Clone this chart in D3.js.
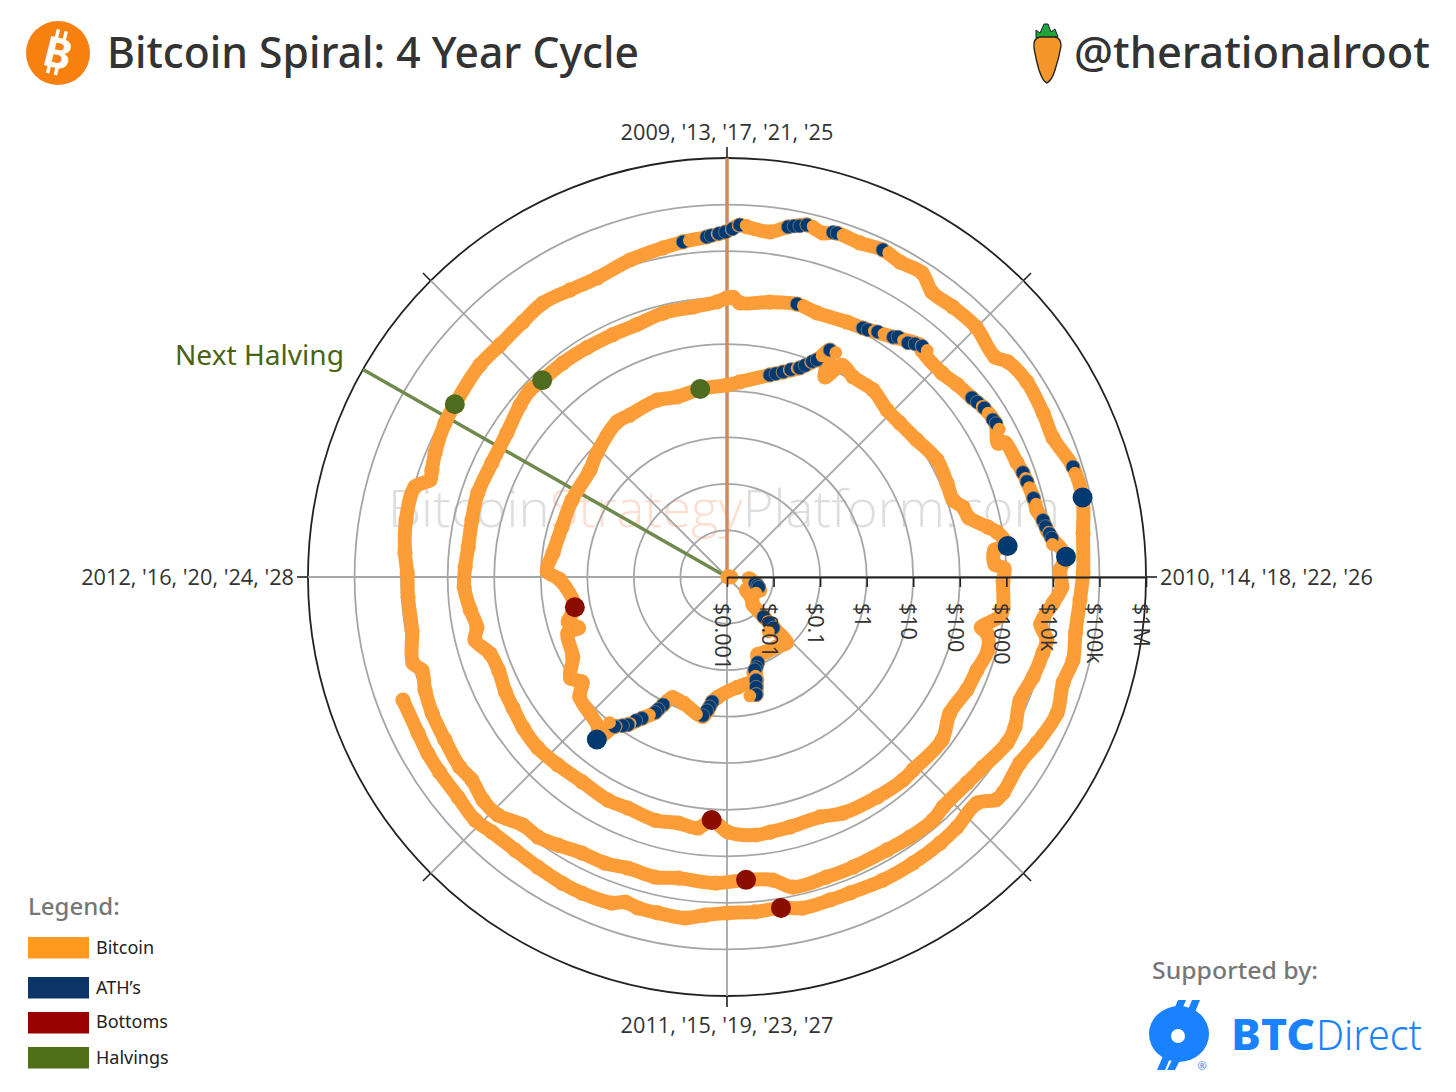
<!DOCTYPE html>
<html>
<head>
<meta charset="utf-8">
<script src="https://cdn.jsdelivr.net/npm/d3@7"></script>
<style>
  html, body { margin: 0; padding: 0; background: #fff; }
  svg { display: block; }
  text { font-family: "Noto Sans", sans-serif; }
  .plotly-ish text { font-family: "Open Sans", sans-serif; fill: #333; }
</style>
</head>
<body>
<svg id="chart" width="1456" height="1092"></svg>
<script>
const btcYears = [
  2009.95, 2010.0, 2010.02, 2010.05, 2010.15, 2010.22, 2010.3, 2010.38, 2010.45, 2010.52,
  2010.525, 2010.528, 2010.532, 2010.6, 2010.7, 2010.76, 2010.78, 2010.81, 2010.82, 2010.845,
  2010.85, 2010.94, 2011.05, 2011.075, 2011.09, 2011.11, 2011.21, 2011.27, 2011.295, 2011.31,
  2011.345, 2011.376, 2011.41, 2011.43, 2011.45, 2011.565, 2011.6, 2011.635, 2011.695, 2011.785,
  2011.79, 2011.825, 2011.875, 2011.99, 2012.02, 2012.088, 2012.188, 2012.293, 2012.421, 2012.484,
  2012.607, 2012.656, 2012.76, 2012.828, 2012.91, 2013.0, 2013.042, 2013.133, 2013.17, 2013.213,
  2013.25, 2013.271, 2013.29, 2013.317, 2013.358, 2013.422, 2013.487, 2013.537, 2013.602, 2013.677,
  2013.743, 2013.791, 2013.817, 2013.845, 2013.88, 2013.895, 2013.93, 2013.936, 2013.97, 2013.98,
  2014.01, 2014.07, 2014.09, 2014.125, 2014.136, 2014.173, 2014.227, 2014.28, 2014.349, 2014.413,
  2014.511, 2014.546, 2014.619, 2014.709, 2014.764, 2014.843, 2014.893, 2014.93, 2014.998, 2015.04,
  2015.073, 2015.125, 2015.182, 2015.258, 2015.312, 2015.392, 2015.467, 2015.532, 2015.594, 2015.65,
  2015.695, 2015.752, 2015.8, 2015.844, 2015.874, 2015.919, 2015.975, 2016.024, 2016.073, 2016.14,
  2016.207, 2016.288, 2016.369, 2016.441, 2016.483, 2016.52, 2016.583, 2016.651, 2016.72, 2016.781,
  2016.849, 2016.92, 2016.977, 2017.0, 2017.014, 2017.03, 2017.099, 2017.16, 2017.209, 2017.28,
  2017.318, 2017.386, 2017.442, 2017.452, 2017.517, 2017.557, 2017.598, 2017.627, 2017.667, 2017.708,
  2017.714, 2017.761, 2017.784, 2017.804, 2017.837, 2017.865, 2017.887, 2017.907, 2017.924, 2017.962,
  2017.987, 2018.019, 2018.051, 2018.095, 2018.123, 2018.15, 2018.201, 2018.253, 2018.306, 2018.341,
  2018.407, 2018.451, 2018.52, 2018.552, 2018.61, 2018.662, 2018.739, 2018.796, 2018.867, 2018.904,
  2018.96, 2019.024, 2019.102, 2019.15, 2019.209, 2019.257, 2019.308, 2019.358, 2019.4, 2019.438,
  2019.488, 2019.529, 2019.572, 2019.607, 2019.667, 2019.724, 2019.772, 2019.811, 2019.83, 2019.893,
  2019.96, 2020.008, 2020.048, 2020.112, 2020.179, 2020.201, 2020.221, 2020.256, 2020.318, 2020.36,
  2020.451, 2020.507, 2020.57, 2020.623, 2020.681, 2020.739, 2020.811, 2020.878, 2020.917, 2020.962,
  2020.997, 2021.023, 2021.036, 2021.079, 2021.11, 2021.142, 2021.173, 2021.197, 2021.241, 2021.283,
  2021.32, 2021.363, 2021.397, 2021.443, 2021.499, 2021.562, 2021.584, 2021.633, 2021.696, 2021.743,
  2021.804, 2021.86, 2021.922, 2021.993, 2022.041, 2022.1, 2022.15, 2022.194, 2022.249, 2022.313,
  2022.36, 2022.422, 2022.44, 2022.468, 2022.527, 2022.57, 2022.633, 2022.698, 2022.763, 2022.803,
  2022.857, 2022.897, 2022.947, 2023.0, 2023.041, 2023.078, 2023.129, 2023.167, 2023.193, 2023.216,
  2023.273, 2023.314, 2023.368, 2023.42, 2023.474, 2023.511, 2023.563, 2023.621, 2023.661, 2023.702,
  2023.769
];
const btcPrices = [
  0.00105, 0.0012, null, 0.003, 0.0045, 0.0052, 0.004, 0.0032, 0.005, 0.0065,
  0.015, 0.03, 0.08, 0.07, 0.065, 0.062, 0.09, 0.12, 0.2, 0.4,
  0.22, 0.24, 0.39, 0.5, 0.76, 1.1, 0.74, 0.7, 1.17, 1.95,
  3.5, 6.6, 10.4, 29.7, 18, 12, 7, 10, 5.4, 4.2,
  2.35, 3.5, 2.15, 3.9, 7.3, 5.9, 5.06, 5.2, 5.4, 7.2,
  12.1, 11.4, 12.2, 10.3, 12, 13.3, 15.8, 27.3, 36.7, 57,
  112, 226, 61, 150, 120, 125, 93, 94, 107, 146,
  138, 135, 193, 220, 510, 760, 1160, 600, 575, 900,
  850, 930, 860, 370, 518, 662, 537, 493, 405, 625,
  571, 591, 525, 447, 339, 345, 360, 376, 300, 170,
  268, 244, 280, 251, 270, 245, 270, 299, 280, 245,
  230, 200, 222, 380, 300, 362, 447, 425, 395, 410,
  445, 410, 447, 600, 680, 630, 620, 590, 570, 570,
  680, 700, 820, 985, 1020, 781, 950, 1130, 985, 1130,
  1240, 1860, 3040, 2640, 2330, 2780, 3300, 4000, 4480, 3120,
  4300, 4940, 5480, 5760, 6240, 6460, 7870, 8850, 10600, 19700,
  14200, 15700, 10600, 6500, 10000, 9550, 8260, 6710, 9440, 9840,
  7060, 6230, 6000, 6990, 6780, 6260, 6210, 6210, 6460, 3840,
  3300, 3800, 3560, 4240, 4020, 4800, 4990, 6400, 8020, 7880,
  12500, 12600, 10060, 11000, 9930, 9500, 8430, 7100, 9890, 7260,
  7340, 7400, 8650, 10070, 9440, 5140, 5500, 6520, 7970, 8400,
  9840, 9400, 10400, 12300, 10640, 10060, 13200, 15900, 18150, 20750,
  25700, 36800, 34000, 29500, 43000, 56900, 46800, 56900, 52800, 60700,
  52500, 57400, 34700, 36500, 37900, 28000, 39800, 48500, 44500, 41000,
  62800, 67000, 50800, 44500, 39600, 38000, 44000, 37000, 46700, 35700,
  28400, 33700, 32000, 17400, 20000, 21000, 21400, 21000, 19200, 19200,
  19700, 15900, 16500, 16500, 18900, 24000, 23300, 23000, 20700, 26700,
  29500, 29500, 27400, 26500, 28200, 33000, 29200, 29000, 28800, 27200,
  27900
];

// small all time high markers along the line
const athYears = [
  2010.14, 2010.17, 2010.2, 2010.526, 2010.528, 2010.53, 2010.78, 2010.8, 2010.815, 2010.825, 2010.835, 2010.845,
  2011.075, 2011.085, 2011.095, 2011.11, 2011.295, 2011.305, 2011.31, 2011.345, 2011.36, 2011.376, 2011.39, 2011.41,
  2013.133, 2013.15, 2013.17, 2013.19, 2013.213, 2013.225, 2013.24, 2013.25, 2013.271,
  2017.16, 2017.318, 2017.33, 2017.351, 2017.386, 2017.394, 2017.419, 2017.432, 2017.447,
  2017.598, 2017.612, 2017.63, 2017.66, 2017.67, 2017.784, 2017.804, 2017.84, 2017.887, 2017.9, 2017.915, 2017.924,
  2020.917, 2020.962, 2020.97, 2020.985, 2020.997, 2021.01, 2021.023,
  2021.11, 2021.12, 2021.13, 2021.142, 2021.19, 2021.197, 2021.283, 2021.804
];
const athPrices = [
  0.0042, 0.0048, 0.0052, 0.0145, 0.022, 0.03, 0.09, 0.11, 0.12, 0.2, 0.28, 0.4,
  0.5, 0.65, 0.8, 1.05, 1.17, 1.6, 1.95, 3.5, 4.5, 6.6, 8, 10.4,
  27.3, 31, 36.7, 46, 57, 70, 95, 112, 226,
  1130, 1240, 1290, 1525, 1860, 2140, 2265, 2700, 3120,
  3300, 3600, 4100, 4300, 4500, 5480, 5760, 6300, 7870, 8500, 9800, 10600,
  18150, 20750, 22000, 24000, 25700, 30000, 36800,
  43000, 47000, 50000, 56900, 55500, 56900, 60700, 62800
];
const peakYears = [2011.43, 2013.93, 2017.962, 2021.86];
const peakPrices = [29.7, 1160, 19700, 67000];
const bottomYears = [2011.875, 2015.04, 2018.96, 2022.897];
const bottomPrices = [2.15, 170, 3300, 15900];
const halvingYears = [2012.91, 2016.52, 2020.36];
const halvingPrices = [12, 630, 8400];
const nextHalvingYear = 2024.33;
const markerYear = 2025;

const radiusTicks = [0.001, 0.01, 0.1, 1, 10, 100, 1000, 10000, 100000, 1000000];
const radiusLabels = ['$0.001', '$0.01', '$0.1', '$1', '$10', '$100', '$1000', '$10k', '$100k', '$1M'];
const spokeYears = [2009, 2009.5, 2010, 2010.5, 2011, 2011.5, 2012, 2012.5];
const sideLabels = ["2009, '13, '17, '21, '25", "2010, '14, '18, '22, '26", "2011, '15, '19, '23, '27", "2012, '16, '20, '24, '28"];
const legendNames = ['Bitcoin', 'ATH\u2019s', 'Bottoms', 'Halvings'];
const legendColors = ['#ff9a1f', '#0a3566', '#990000', '#4f7019'];

const CX = 727, CY = 577, R = 419;
const ORANGE = '#fd9d38', NAVY = '#003a70', DARKRED = '#8b0d00', GREEN = '#4f6b1f';

const svg = d3.select('#chart');

const radius = d3.scaleLog().domain([0.001, 1000000]).range([0, R]);
// 4 years is one full turn, 2009 straight up
const angle = d3.scaleLinear().domain([2009, 2013]).range([0, 2 * Math.PI]);

// watermark goes below everything
const mark = svg.append('text')
  .attr('x', 388).attr('y', 527)
  .attr('textLength', 672).attr('lengthAdjust', 'spacingAndGlyphs')
  .style('font-family', '"Open Sans", sans-serif')
  .style('font-size', '51px').style('font-weight', 300)
  .style('fill', '#dedede');
mark.append('tspan').text('Bitcoin');
mark.append('tspan').style('fill', '#fbdfd0').text('Strategy');
mark.append('tspan').text('Platform.com');

const polar = svg.append('g').attr('class', 'plotly-ish')
  .attr('transform', 'translate(' + CX + ',' + CY + ')');

const arcPoint = (year, r) => d3.pointRadial(angle(year), r);

// rings
polar.selectAll('circle.ring').data(radiusTicks.slice(1, -1)).join('circle')
  .attr('class', 'ring')
  .attr('r', d => radius(d))
  .attr('fill', 'none').attr('stroke', '#a6a6a6').attr('stroke-width', 1.8);
polar.append('circle').attr('r', R)
  .attr('fill', 'none').attr('stroke', '#222').attr('stroke-width', 1.8);

// spokes and the little outer ticks
polar.selectAll('line.spoke').data(spokeYears).join('line')
  .attr('class', 'spoke')
  .attr('x2', d => arcPoint(d, R)[0]).attr('y2', d => arcPoint(d, R)[1])
  .attr('stroke', '#a6a6a6').attr('stroke-width', 1.8);
polar.selectAll('line.outer').data(spokeYears).join('line')
  .attr('class', 'outer')
  .attr('x1', d => arcPoint(d, R)[0]).attr('y1', d => arcPoint(d, R)[1])
  .attr('x2', d => arcPoint(d, R + 11)[0]).attr('y2', d => arcPoint(d, R + 11)[1])
  .attr('stroke', '#222').attr('stroke-width', 1.6);

// guide lines
const guide = d3.lineRadial().angle(d => angle(d.year)).radius(d => d.r);
polar.append('path')
  .attr('d', guide([{year: markerYear, r: 0}, {year: markerYear, r: R}]))
  .attr('stroke', '#cc8a62').attr('stroke-width', 3.5).attr('fill', 'none');
polar.append('path')
  .attr('d', guide([{year: nextHalvingYear, r: 0}, {year: nextHalvingYear, r: R}]))
  .attr('stroke', '#6f8a4c').attr('stroke-width', 3.5).attr('fill', 'none');

// bitcoin spiral
const spiral = d3.lineRadial()
  .defined((d, i) => btcPrices[i] !== null)
  .curve(d3.curveCatmullRom.alpha(0.5))
  .angle(d => angle(d))
  .radius((d, i) => radius(btcPrices[i] || 1));
polar.append('path')
  .attr('d', spiral(btcYears))
  .attr('fill', 'none').attr('stroke', ORANGE).attr('stroke-width', 14)
  .attr('stroke-linejoin', 'round').attr('stroke-linecap', 'round');
// the original is a scatter of round markers, so keep a marker on every reading
polar.append('g').selectAll('circle')
  .data(btcYears.filter((d, i) => btcPrices[i] !== null))
  .join('circle')
  .attr('cx', d => arcPoint(d, radius(btcPrices[btcYears.indexOf(d)]))[0])
  .attr('cy', d => arcPoint(d, radius(btcPrices[btcYears.indexOf(d)]))[1])
  .attr('r', 7.6).attr('fill', ORANGE);

function dots(years, prices, r, fill) {
  polar.append('g').selectAll('circle').data(years).join('circle')
    .attr('cx', (d, i) => arcPoint(d, radius(prices[i]))[0])
    .attr('cy', (d, i) => arcPoint(d, radius(prices[i]))[1])
    .attr('r', r).attr('fill', fill);
}

// ATH markers, each one partly covered by the orange that follows it in time
const athGroup = polar.append('g');
athYears.forEach((year, i) => {
  const r = radius(athPrices[i]);
  const p = arcPoint(year, r);
  let next = arcPoint(year + (6.5 / r) / (2 * Math.PI) * 4, r);
  if (i < athYears.length - 1) {
    const n = arcPoint(athYears[i + 1], radius(athPrices[i + 1]));
    const dist = Math.hypot(n[0] - p[0], n[1] - p[1]);
    if (dist > 0 && dist < 25) next = [p[0] + (n[0] - p[0]) / dist * 6.5, p[1] + (n[1] - p[1]) / dist * 6.5];
  }
  athGroup.append('circle').attr('cx', p[0]).attr('cy', p[1]).attr('r', 6.8)
    .attr('fill', NAVY).attr('stroke', '#7d7d7d').attr('stroke-width', 0.8);
  athGroup.append('circle').attr('cx', next[0]).attr('cy', next[1]).attr('r', 6.4).attr('fill', ORANGE);
});
dots(peakYears, peakPrices, 10, NAVY);
dots(bottomYears, bottomPrices, 10, DARKRED);
dots(halvingYears, halvingPrices, 10, GREEN);

// radial axis along the 2010 spoke, labels sit on top of the spiral
const axis = polar.append('g').call(
  d3.axisBottom(radius)
    .tickValues(radiusTicks)
    .tickFormat((d, i) => radiusLabels[i])
    .tickSize(10)
    .tickSizeOuter(0)
);
axis.select('.domain').attr('stroke', '#222').attr('stroke-width', 1.8);
axis.selectAll('.tick line').attr('stroke', '#222').attr('stroke-width', 1.6);
axis.selectAll('.tick text')
  .attr('transform', 'translate(-5,26) rotate(90)')
  .attr('x', 0).attr('y', 0).attr('dy', '0.35em')
  .attr('text-anchor', 'start')
  .style('font-size', '21.5px');

// labels on the four sides
const sides = polar.append('g').style('font-size', '21.7px');
sides.append('text').attr('x', 0).attr('y', -437).attr('text-anchor', 'middle').text(sideLabels[0]);
sides.append('text').attr('x', 433).attr('y', 8).attr('text-anchor', 'start').text(sideLabels[1]);
sides.append('text').attr('x', 0).attr('y', 456).attr('text-anchor', 'middle').text(sideLabels[2]);
sides.append('text').attr('x', -433).attr('y', 8).attr('text-anchor', 'end').text(sideLabels[3]);

svg.append('text').attr('x', 175).attr('y', 365)
  .attr('textLength', 169).attr('lengthAdjust', 'spacingAndGlyphs')
  .style('font-size', '27px').style('fill', '#4a6310').text('Next Halving');

// header
svg.append('circle').attr('cx', 58).attr('cy', 53).attr('r', 32).attr('fill', '#f7800f');
const bLogo = svg.append('g').attr('transform', 'translate(58,53) rotate(14)');
bLogo.append('text').attr('text-anchor', 'middle').attr('y', 15)
  .style('font-size', '42px').style('font-weight', 700).style('fill', '#fff').text('B');
bLogo.selectAll('rect').data([[-7, -23], [1, -23], [-7, 13], [1, 13]]).join('rect')
  .attr('x', d => d[0]).attr('y', d => d[1]).attr('width', 3.5).attr('height', 9).attr('fill', '#fff');

svg.append('text').attr('x', 107).attr('y', 68)
  .attr('textLength', 532).attr('lengthAdjust', 'spacingAndGlyphs')
  .style('font-size', '43px').style('font-weight', 500).style('fill', '#333')
  .text('Bitcoin Spiral: 4 Year Cycle');
svg.append('text').attr('x', 1074).attr('y', 68)
  .attr('textLength', 356).attr('lengthAdjust', 'spacingAndGlyphs')
  .style('font-size', '43px').style('font-weight', 500).style('fill', '#333')
  .text('@therationalroot');

// carrot
svg.append('path')
  .attr('d', 'M1036,38 L1036,30 L1040,33 L1044,24 L1048,24 L1051,32 L1055,29 L1058,37 Z')
  .attr('fill', '#22a338').attr('stroke', '#123').attr('stroke-width', 1);
svg.append('path')
  .attr('d', 'M1040,37 Q1033,38 1034,48 Q1036,60 1039,70 Q1043,82 1047,83 Q1052,80 1055,70 Q1059,58 1061,46 Q1061,38 1055,37 Z')
  .attr('fill', '#f5962a').attr('stroke', '#222').attr('stroke-width', 1.4);

// legend
svg.append('text').attr('x', 28).attr('y', 915)
  .style('font-size', '24px').style('font-weight', 500).style('fill', '#777').text('Legend:');
const legendTop = [937, 977, 1012, 1047];
const legendText = [954, 994, 1028, 1064];
legendNames.forEach((name, i) => {
  svg.append('rect').attr('x', 28).attr('y', legendTop[i]).attr('width', 61).attr('height', 21.5)
    .attr('fill', legendColors[i]);
  svg.append('text').attr('x', 96).attr('y', legendText[i])
    .style('font-size', '18px').style('fill', '#222').text(name);
});

// sponsor
svg.append('text').attr('x', 1152).attr('y', 979)
  .attr('textLength', 166).attr('lengthAdjust', 'spacingAndGlyphs')
  .style('font-size', '24px').style('font-weight', 500).style('fill', '#777').text('Supported by:');
const BLUE = '#1a82ff';
svg.append('ellipse').attr('cx', 1179).attr('cy', 1034).attr('rx', 30).attr('ry', 28).attr('fill', BLUE);
svg.append('path')
  .attr('d', 'M1178,1000 L1186,1000 L1181,1012 L1173,1012 Z M1192,1000 L1200,1000 L1195,1012 L1187,1012 Z M1163,1056 L1171,1056 L1165,1070 L1157,1070 Z M1174,1056 L1182,1056 L1175,1070 L1167,1070 Z')
  .attr('fill', BLUE);
svg.append('circle').attr('cx', 1178).attr('cy', 1036).attr('r', 7).attr('fill', '#fff');
svg.append('text').attr('x', 1202).attr('y', 1070).attr('text-anchor', 'middle')
  .style('font-size', '11px').style('fill', BLUE).text('\u00ae');
svg.append('text').attr('x', 1231).attr('y', 1050)
  .attr('textLength', 84).attr('lengthAdjust', 'spacingAndGlyphs')
  .style('font-size', '42px').style('font-weight', 800).style('fill', BLUE).text('BTC');
svg.append('text').attr('x', 1316).attr('y', 1050)
  .attr('textLength', 106).attr('lengthAdjust', 'spacingAndGlyphs')
  .style('font-size', '42px').style('font-weight', 300).style('fill', BLUE).text('Direct');
</script>
</body>
</html>
